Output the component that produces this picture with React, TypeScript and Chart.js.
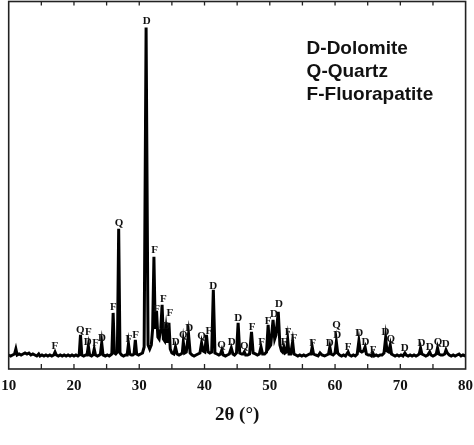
import React, { useEffect, useRef } from "react";
import { Chart, registerables } from "chart.js";

Chart.register(...registerables);

// XRD pattern: [2θ (°), intensity (a.u.)]
const xrdPattern: [number, number][] = [
  [10.0, 14], [10.3, 13], [10.6, 14], [10.9, 15], [11.1, 20], [11.3, 14], [11.6, 15], [11.9, 14],
  [12.2, 15], [12.5, 16], [12.8, 15], [13.1, 16], [13.4, 14], [13.7, 15], [14.0, 14], [14.3, 13],
  [14.6, 15], [14.8, 13], [15.1, 14], [15.4, 13], [15.7, 14], [16.0, 13], [16.3, 14], [16.6, 13],
  [16.9, 14], [17.1, 17], [17.3, 14], [17.6, 13], [17.9, 14], [18.2, 13], [18.5, 14], [18.8, 13],
  [19.1, 14], [19.4, 13], [19.7, 14], [20.0, 13], [20.3, 14], [20.6, 13], [20.8, 14], [21.0, 34],
  [21.2, 14], [21.5, 13], [21.8, 14], [22.0, 14], [22.2, 23], [22.4, 14], [22.7, 13], [22.9, 14],
  [23.1, 20], [23.3, 14], [23.6, 13], [23.9, 14], [24.05, 15], [24.25, 26], [24.45, 14], [24.8, 13],
  [25.1, 14], [25.4, 13], [25.6, 14], [25.8, 15], [26.0, 56], [26.2, 16], [26.4, 15], [26.65, 17],
  [26.85, 140], [27.05, 16], [27.3, 14], [27.6, 13], [27.9, 14], [28.15, 14], [28.35, 25], [28.55, 15],
  [28.8, 14], [29.0, 14], [29.2, 15], [29.4, 29], [29.6, 15], [29.9, 14], [30.2, 15], [30.5, 16],
  [30.75, 22], [31.05, 341], [31.35, 24], [31.6, 20], [31.85, 24], [32.05, 40], [32.25, 112], [32.45, 40],
  [32.65, 58], [32.85, 32], [33.05, 30], [33.3, 40], [33.5, 64], [33.7, 30], [33.9, 28], [34.1, 40],
  [34.3, 26], [34.55, 46], [34.75, 20], [35.0, 16], [35.3, 15], [35.55, 22], [35.8, 15], [36.1, 14],
  [36.4, 15], [36.6, 16], [36.75, 27], [36.95, 16], [37.2, 17], [37.55, 35], [37.8, 16], [38.1, 14],
  [38.4, 13], [38.7, 14], [39.0, 15], [39.3, 16], [39.55, 26], [39.8, 18], [40.05, 17], [40.3, 34],
  [40.55, 17], [40.8, 16], [41.1, 17], [41.35, 79], [41.6, 16], [41.9, 15], [42.2, 14], [42.45, 15],
  [42.65, 19], [42.85, 14], [43.2, 13], [43.5, 14], [43.8, 15], [44.1, 21], [44.35, 15], [44.6, 14],
  [44.9, 16], [45.15, 46], [45.4, 16], [45.7, 15], [45.9, 15], [46.1, 17], [46.3, 14], [46.6, 14],
  [46.9, 15], [47.2, 37], [47.45, 16], [47.8, 15], [48.1, 14], [48.4, 15], [48.65, 22], [48.9, 15],
  [49.2, 15], [49.5, 17], [49.75, 44], [49.95, 22], [50.15, 24], [50.5, 49], [50.75, 30], [50.95, 34],
  [51.3, 57], [51.55, 24], [51.8, 18], [51.95, 17], [52.15, 22], [52.35, 16], [52.55, 17], [52.75, 29],
  [52.95, 15], [53.2, 15], [53.5, 27], [53.7, 15], [54.0, 14], [54.3, 13], [54.6, 14], [54.9, 13],
  [55.2, 14], [55.5, 13], [55.8, 14], [56.1, 15], [56.3, 15], [56.5, 22], [56.7, 15], [57.0, 14],
  [57.4, 13], [57.7, 16], [58.0, 14], [58.4, 13], [58.7, 14], [59.0, 15], [59.2, 22], [59.4, 15],
  [59.7, 14], [60.0, 16], [60.2, 27], [60.4, 16], [60.7, 14], [61.0, 13], [61.3, 14], [61.6, 13],
  [61.8, 15], [62.0, 17], [62.2, 14], [62.5, 13], [62.8, 14], [63.1, 13], [63.4, 15], [63.65, 28],
  [63.85, 18], [64.1, 17], [64.35, 18], [64.6, 22], [64.8, 15], [65.1, 14], [65.4, 14], [65.6, 13],
  [65.8, 16], [66.0, 13], [66.3, 14], [66.6, 13], [66.9, 14], [67.2, 14], [67.5, 16], [67.75, 31],
  [67.95, 18], [68.2, 17], [68.45, 24], [68.65, 15], [68.9, 14], [69.2, 13], [69.5, 14], [69.8, 13],
  [70.1, 14], [70.4, 13], [70.7, 16], [70.9, 14], [71.2, 13], [71.5, 14], [71.8, 13], [72.1, 14],
  [72.4, 13], [72.7, 14], [72.9, 15], [73.1, 21], [73.3, 15], [73.6, 14], [73.9, 13], [74.2, 14],
  [74.5, 17], [74.7, 14], [75.0, 13], [75.3, 14], [75.5, 15], [75.7, 21], [75.9, 15], [76.2, 14],
  [76.5, 14], [76.8, 15], [77.0, 19], [77.2, 16], [77.5, 14], [77.8, 13], [78.1, 14], [78.4, 13],
  [78.7, 14], [79.0, 15], [79.3, 13], [79.6, 14], [80.0, 13],
];

// Phase labels placed above the peaks
const peakLabels = [
  "F", "Q", "F", "D", "F", "D", "F", "Q", "F", "F", "D", "F", "F", "F", "D", "F",
  "D", "Q", "D", "Q", "F", "D", "Q", "D", "D", "Q", "F", "F", "F", "D", "D", "F",
  "F", "F", "F", "D", "Q", "D", "F", "D", "D", "F", "D", "Q", "D", "D", "D", "Q", "D",
];
const peakLabelTheta = [
  17.09, 20.96, 22.19, 22.1, 23.32, 24.29, 26.02, 26.89, 28.42, 29.45, 31.13, 32.36, 32.66, 33.68, 34.09, 34.7,
  35.57, 36.74, 37.66, 39.56, 40.67, 41.33, 42.62, 44.15, 45.16, 46.08, 47.3, 48.74, 49.75, 50.63, 51.39, 52.21,
  52.82, 53.69, 56.55, 59.2, 60.23, 60.32, 62.01, 63.69, 64.67, 65.83, 67.73, 68.54, 70.68, 73.24, 74.52, 75.79, 76.97,
];
const peakLabelHeight = [
  23, 39, 37, 27, 26, 31, 62, 146, 30, 34, 347, 119, 60, 70, 43, 56,
  27, 34, 41, 33, 38, 83, 24, 27, 51, 23, 42, 27, 48, 55, 65, 27,
  37, 31, 26, 26, 44, 34, 22, 36, 27, 19, 37, 30, 21, 26, 22, 27, 25,
];

const legendLines = ["D-Dolomite", "Q-Quartz", "F-Fluorapatite"];
const xMin = 10;
const xMax = 80;
const xStep = 5;
const yMax = 367;

const decorPlugin = {
  id: "decor",
  afterDatasetsDraw(chart: any) {
    const { ctx, chartArea: a, scales } = chart;
    const x = scales.x;
    const y = scales.y;
    ctx.save();
    // frame
    ctx.strokeStyle = "#222";
    ctx.lineWidth = 1.6;
    ctx.strokeRect(a.left, a.top, a.right - a.left, a.bottom - a.top);
    // inward tick marks (bottom and top)
    ctx.lineWidth = 1.3;
    x.ticks.forEach((t: any) => {
      if (t.value <= x.min || t.value >= x.max) return;
      const px = x.getPixelForValue(t.value);
      ctx.beginPath();
      ctx.moveTo(px, a.bottom);
      ctx.lineTo(px, a.bottom - 5);
      ctx.moveTo(px, a.top);
      ctx.lineTo(px, a.top + 4);
      ctx.stroke();
    });
    // peak labels
    ctx.fillStyle = "#111";
    ctx.font = "bold 11px 'Liberation Serif'";
    ctx.textAlign = "center";
    ctx.textBaseline = "middle";
    peakLabels.forEach((s, i) => {
      ctx.fillText(s, x.getPixelForValue(peakLabelTheta[i]), y.getPixelForValue(peakLabelHeight[i]));
    });
    // legend text
    ctx.font = "bold 19px 'Liberation Sans'";
    ctx.textAlign = "left";
    const lx = a.left + (a.right - a.left) * 0.652;
    legendLines.forEach((s, i) => {
      ctx.fillText(s, lx, a.top + 46.8 + i * 23.4);
    });
    ctx.restore();
  },
};

export default function App() {
  const ref = useRef<HTMLCanvasElement>(null);
  useEffect(() => {
    if (!ref.current) return;
    const chart = new Chart(ref.current, {
      type: "line",
      data: {
        datasets: [
          {
            data: xrdPattern.map(([t, v]) => ({ x: t, y: v })),
            borderColor: "#000",
            borderWidth: 3,
            pointRadius: 0,
            tension: 0,
            fill: false,
          },
        ],
      },
      options: {
        animation: false,
        responsive: false,
        devicePixelRatio: 1,
        layout: { padding: { left: 8.7, right: 8.4, top: 1.5, bottom: 0 } },
        plugins: { legend: { display: false }, tooltip: { enabled: false } },
        scales: {
          x: {
            type: "linear",
            min: xMin,
            max: xMax,
            grid: { display: false, drawTicks: false },
            border: { display: false },
            ticks: {
              stepSize: xStep,
              autoSkip: false,
              maxRotation: 0,
              padding: 8,
              color: "#111",
              font: { family: "'Liberation Serif'", size: 15, weight: "bold" },
              callback: (v: any) => (Number(v) % 10 === 0 ? String(v) : ""),
            },
            title: {
              display: true,
              text: "2θ (°)",
              color: "#111",
              font: { family: "'Liberation Serif'", size: 19, weight: "bold" },
              padding: { top: 0, bottom: 19 },
            },
            afterFit: (s: any) => {
              s.height = 76;
              s.paddingLeft = 0;
              s.paddingRight = 0;
            },
          },
          y: {
            display: false,
            min: 0,
            max: yMax,
          },
        },
      },
      plugins: [decorPlugin],
    });
    return () => chart.destroy();
  }, []);
  return (
    <div style={{ position: "absolute", left: 0, top: 0, width: 474, height: 445, background: "#fff" }}>
      <canvas ref={ref} width={474} height={445} style={{ display: "block" }} />
    </div>
  );
}
